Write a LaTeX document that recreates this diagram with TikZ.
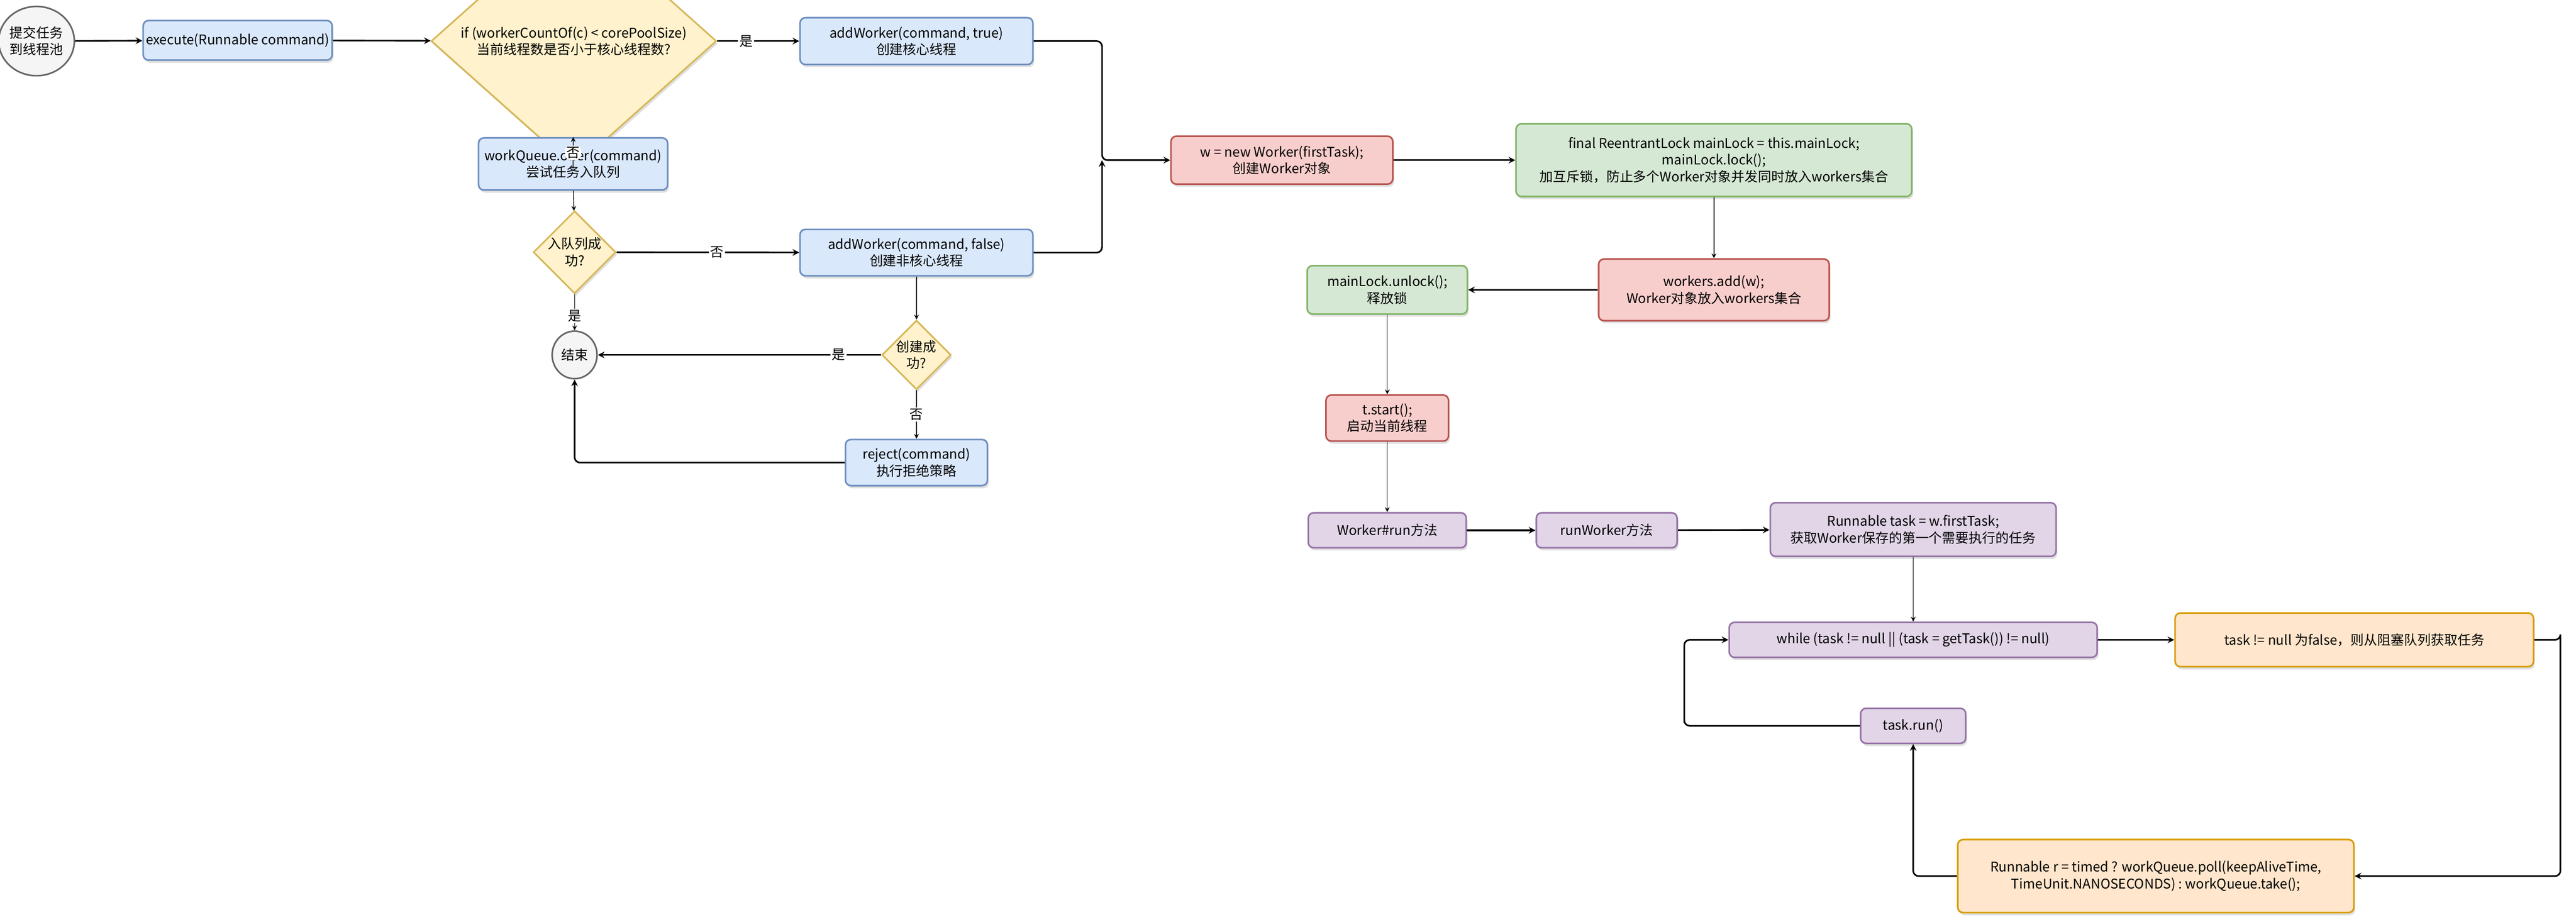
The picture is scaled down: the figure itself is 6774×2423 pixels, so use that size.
\documentclass[tikz,border=0pt]{standalone}
\usepackage{fontspec}
\setmainfont{Noto Sans CJK SC}
\usetikzlibrary{shapes.geometric, shadows}
\definecolor{bfill}{HTML}{DAE8FC}\definecolor{bdraw}{HTML}{6C8EBF}
\definecolor{yfill}{HTML}{FFF2CC}\definecolor{ydraw}{HTML}{D6B656}
\definecolor{rfill}{HTML}{F8CECC}\definecolor{rdraw}{HTML}{B85450}
\definecolor{gfill}{HTML}{D5E8D4}\definecolor{gdraw}{HTML}{82B366}
\definecolor{pfill}{HTML}{E1D5E7}\definecolor{pdraw}{HTML}{9673A6}
\definecolor{ofill}{HTML}{FFE6CC}\definecolor{odraw}{HTML}{D79B00}
\definecolor{cfill}{HTML}{F5F5F5}\definecolor{cdraw}{HTML}{666666}

\begin{document}
\begin{tikzpicture}[x=0.01cm, y=-0.01cm, font=\fontsize{10}{12.5}\selectfont,
  box/.style={rounded corners=4pt, line width=1.2pt, align=center, inner sep=2pt,
    drop shadow={shadow xshift=1pt, shadow yshift=-2pt, opacity=0.25}},
  blu/.style={box, fill=bfill, draw=bdraw},
  red/.style={box, fill=rfill, draw=rdraw},
  grn/.style={box, fill=gfill, draw=gdraw},
  prp/.style={box, fill=pfill, draw=pdraw},
  org/.style={box, fill=ofill, draw=odraw},
  dec/.style={diamond, fill=yfill, draw=ydraw, line width=1.2pt, align=center, inner sep=0pt,
    drop shadow={shadow xshift=1pt, shadow yshift=-2pt, opacity=0.25}},
  term/.style={ellipse, fill=cfill, draw=cdraw, line width=1.2pt, align=center, inner sep=0pt},
  flow/.style={-stealth, line width=1.2pt, rounded corners=4pt},
  thin/.style={-stealth, line width=0.6pt, rounded corners=4pt},
  lbl/.style={fill=white, inner sep=1pt}]
\useasboundingbox (0,0) rectangle (6774,2423);

% left part
\node[term, minimum width=1.80cm, minimum height=1.82cm] (submit) at (96,108) {提交任务\\到线程池};
\node[blu, minimum width=4.91cm, minimum height=1.04cm] (exec) at (625,106) {execute(Runnable command)};
\node[dec, minimum width=7.50cm, minimum height=2.07cm] (core) at (1509,108) {if (workerCountOf(c) < corePoolSize)\\当前线程数是否小于核心线程数?};
\node[blu, minimum width=6.12cm, minimum height=1.23cm] (addcore) at (2410,108) {addWorker(command, true)\\创建核心线程};
\node[blu, minimum width=4.97cm, minimum height=1.37cm] (offer) at (1507,431) {workQueue.offer(command)\\尝试任务入队列};
\node[dec, minimum width=1.61cm, minimum height=1.45cm] (queued) at (1511,663) {入队列成\\功?};
\node[blu, minimum width=6.12cm, minimum height=1.22cm] (addnon) at (2410,664) {addWorker(command, false)\\创建非核心线程};
\node[term, minimum width=1.18cm, minimum height=1.25cm] (done) at (1511,933) {结束};
\node[dec, minimum width=1.34cm, minimum height=1.43cm] (created) at (2410,933) {创建成\\功?};
\node[blu, minimum width=3.73cm, minimum height=1.21cm] (reject) at (2410,1216) {reject(command)\\执行拒绝策略};
\coordinate (merge) at (2898,421);

% right part
\node[red, minimum width=5.83cm, minimum height=1.26cm] (neww) at (3371,421) {w = new Worker(firstTask);\\创建Worker对象};
\node[grn, minimum width=10.40cm, minimum height=1.91cm] (lock) at (4507,421) {final ReentrantLock mainLock = this.mainLock;\\mainLock.lock();\\加互斥锁，防止多个Worker对象并发同时放入workers集合};
\node[red, minimum width=6.06cm, minimum height=1.62cm] (add) at (4507,762) {workers.add(w);\\Worker对象放入workers集合};
\node[grn, minimum width=4.21cm, minimum height=1.27cm] (unlock) at (3648,762) {mainLock.unlock();\\释放锁};
\node[red, minimum width=3.22cm, minimum height=1.21cm] (start) at (3648,1099) {t.start();\\启动当前线程};
\node[prp, minimum width=4.15cm, minimum height=0.92cm] (wrun) at (3648,1394) {Worker\#run方法};
\node[prp, minimum width=3.70cm, minimum height=0.92cm] (rwork) at (4225,1394) {runWorker方法};
\node[prp, minimum width=7.51cm, minimum height=1.41cm] (first) at (5031,1392) {Runnable task = w.firstTask;\\获取Worker保存的第一个需要执行的任务};
\node[prp, minimum width=9.67cm, minimum height=0.92cm] (loop) at (5031,1682) {while (task != null || (task = getTask()) != null)};
\node[org, minimum width=9.42cm, minimum height=1.41cm] (fetch) at (6191,1682) {task != null 为false，则从阻塞队列获取任务};
\node[prp, minimum width=2.76cm, minimum height=0.92cm] (trun) at (5031,1908) {task.run()};
\node[org, minimum width=10.41cm, minimum height=1.92cm] (take) at (5669,2303) {Runnable r = timed ? workQueue.poll(keepAliveTime,\\TimeUnit.NANOSECONDS) : workQueue.take();};
\coordinate (back) at (6733,1682);
\coordinate (left) at (4429,1908);

\draw[flow] (submit) -- (exec);
\draw[flow] (exec) -- (core);
\draw[flow] (core) -- node[lbl, pos=0.35] {是} (addcore);
\draw[thin] (core) -- node[lbl] {否} (offer);
\draw[thin] (offer) -- (queued);
\draw[flow] (queued) -- node[lbl, pos=0.55] {否} (addnon);
\draw[thin] (queued) -- node[lbl, pos=0.6] {是} (done);
\draw[thin] (addnon) -- (created);
\draw[flow] (created) -- node[lbl, pos=0.15] {是} (done);
\draw[thin] (created) -- node[lbl] {否} (reject);
\draw[flow] (reject) -| (done);
\draw[flow] (addcore) -| (merge) -- (neww);
\draw[flow] (addnon) -| (merge);
\draw[flow] (neww) -- (lock);
\draw[thin] (lock) -- (add);
\draw[flow] (add) -- (unlock);
\draw[thin] (unlock) -- (start);
\draw[thin] (start) -- (wrun);
\draw[flow] (wrun) -- (rwork);
\draw[flow] (rwork) -- (first);
\draw[thin] (first) -- (loop);
\draw[flow] (loop) -- (fetch);
\draw[flow] (fetch) -| (back) |- (take);
\draw[flow] (take) -| (trun);
\draw[flow] (trun) -| (left) |- (loop);
\end{tikzpicture}
\end{document}
